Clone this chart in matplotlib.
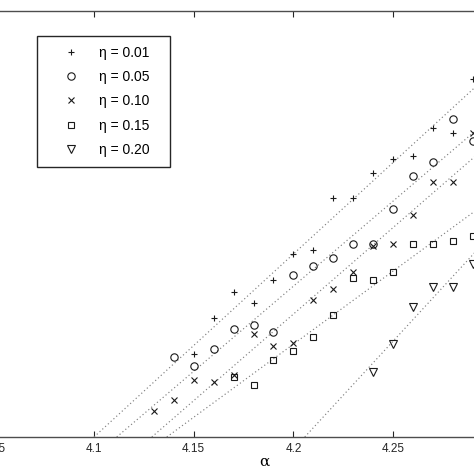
import matplotlib
matplotlib.use("Agg")
import matplotlib.pyplot as plt
import numpy as np

# ---- data (y in arbitrary units; the y axis is not visible in the reference) ----
x_e001 = [4.15, 4.16, 4.17, 4.18, 4.19, 4.20, 4.21, 4.22, 4.23, 4.24, 4.25, 4.26, 4.27, 4.28, 4.29]
y_e001 = [0.83, 1.19, 1.45, 1.34, 1.57, 1.83, 1.87, 2.39, 2.39, 2.64, 2.78, 2.81, 3.09, 3.04, 3.58]

x_e005 = [4.14, 4.15, 4.16, 4.17, 4.18, 4.19, 4.20, 4.21, 4.22, 4.23, 4.24, 4.25, 4.26, 4.27, 4.28, 4.29]
y_e005 = [0.80, 0.71, 0.88, 1.08, 1.12, 1.05, 1.62, 1.71, 1.79, 1.93, 1.93, 2.28, 2.61, 2.75, 3.18, 2.96]

x_e010 = [4.13, 4.14, 4.15, 4.16, 4.17, 4.18, 4.19, 4.20, 4.21, 4.22, 4.23, 4.24, 4.25, 4.26, 4.27, 4.28, 4.29]
y_e010 = [0.26, 0.37, 0.57, 0.55, 0.62, 1.03, 0.91, 0.94, 1.37, 1.48, 1.65, 1.91, 1.93, 2.22, 2.55, 2.55, 3.04]

x_e015 = [4.17, 4.18, 4.19, 4.20, 4.21, 4.22, 4.23, 4.24, 4.25, 4.26, 4.27, 4.28, 4.29]
y_e015 = [0.60, 0.52, 0.77, 0.86, 1.00, 1.22, 1.59, 1.57, 1.65, 1.93, 1.93, 1.96, 2.01]

x_e020 = [4.24, 4.25, 4.26, 4.27, 4.28, 4.29]
y_e020 = [0.65, 0.93, 1.30, 1.50, 1.50, 1.73]

labels = ["η = 0.01", "η = 0.05", "η = 0.10", "η = 0.15", "η = 0.20"]

# dotted fit lines: start (x at y=0) and end point at alpha = 4.30
fit_x_start = [4.1000, 4.1114, 4.1290, 4.1365, 4.2057]
fit_x_end = [4.30, 4.30, 4.30, 4.30, 4.30]
fit_y_end = [3.66, 3.21, 2.96, 2.39, 2.04]

xticks = [4.05, 4.1, 4.15, 4.2, 4.25]
xtick_labels = ["4.05", "4.1", "4.15", "4.2", "4.25"]

# ---- figure ----
W = 474
fig = plt.figure(figsize=(4.74, 4.74), dpi=100)
left_px, right_px = -14.22, 488.22
bottom_px, top_px = 437.0, 11.0
ax = fig.add_axes([left_px / W, 1 - bottom_px / W,
                   (right_px - left_px) / W, (bottom_px - top_px) / W])

px_per_unit = 1994.0
ax.set_xlim(4.1 + (left_px - 94) / px_per_unit, 4.1 + (right_px - 94) / px_per_unit)
ax.set_ylim(0, 4.26)

line_kw = dict(linestyle=(0, (1, 2.2)), color="0.5", linewidth=0.85)
for xs, xe, ye in zip(fit_x_start, fit_x_end, fit_y_end):
    ax.plot([xs, xe], [0.0, ye], **line_kw)

series = [(x_e001, y_e001, "+", 5.0),
          (x_e005, y_e005, "o", 5.3),
          (x_e010, y_e010, "x", 3.8),
          (x_e015, y_e015, "s", 4.4),
          (x_e020, y_e020, "v", 5.5)]
for (xs, ys, m, ms), lab in zip(series, labels):
    ax.plot(xs, ys, linestyle="none", marker=m, markersize=ms,
            markerfacecolor="none", markeredgecolor="0.1",
            markeredgewidth=0.8, label=lab)

ax.set_xticks(xticks)
ax.set_xticklabels(xtick_labels, family="Liberation Sans", fontsize=8.5)
ax.set_yticks([])
ax.tick_params(axis="x", direction="in", length=4, width=0.8, top=True,
               pad=4.5, colors="0.15")
for s in ax.spines.values():
    s.set_linewidth(1.0)
    s.set_color("0.3")

ax.set_xlabel("α", family="DejaVu Serif", fontsize=11, va="center")
ax.xaxis.set_label_coords((264 - left_px) / (right_px - left_px),
                          -(462 - bottom_px) / (bottom_px - top_px))

# legend box: px (36.7, 35.7) - (170, 163.3)
lx0, ly0, lx1, ly1 = 36.7, 35.7, 170.0, 163.3
leg = ax.legend(loc="upper left",
                bbox_to_anchor=(lx0 / W, 1 - ly1 / W, (lx1 - lx0) / W, (ly1 - ly0) / W),
                bbox_transform=fig.transFigure, mode="expand", borderaxespad=0,
                numpoints=1, fancybox=False, edgecolor="0.15",
                prop={"family": "Liberation Sans", "size": 10},
                handlelength=3.5, handletextpad=0.3, borderpad=0.72,
                labelspacing=0.74, framealpha=1)
leg.get_frame().set_linewidth(1.0)

fig.savefig("out.png", dpi=100)
